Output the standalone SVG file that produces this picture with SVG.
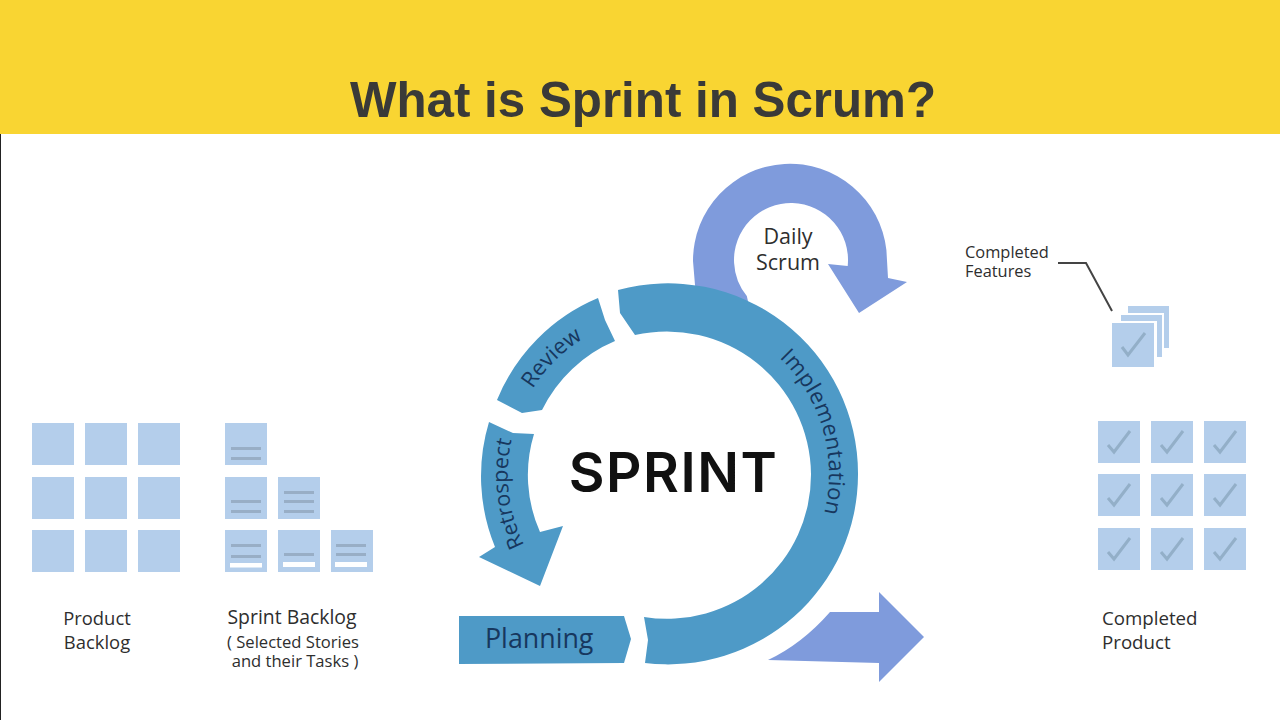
<svg xmlns="http://www.w3.org/2000/svg" width="1280" height="720" viewBox="0 0 1280 720">
<style>
.t{fill:#B4CEEB}
.l{fill:#98AEC6}
.w{fill:#FFFFFF}
.c{fill:none;stroke:#93AFC8;stroke-width:3}
.lab{font-family:"Open Sans","Liberation Sans",sans-serif;fill:#2E2E2E}
.arc{font-family:"Open Sans","Liberation Sans",sans-serif;fill:#17375E}
.blue{fill:#4E9AC7}
.peri{fill:#7F9BDC}
</style>
<defs>
<path id="pImp" d="M748.5 334.6A161 161 0 0 1 810.2 549.6"/>
<path id="pRev" d="M513.5 432.6A160 160 0 0 1 626.6 319.5"/>
<path id="pRet" d="M540.2 570.3A158 158 0 0 1 520.7 411.5"/>
<path id="chk" d="M10 24L16 31L32 10"/>
<rect id="tile" class="t" width="42" height="42"/>
</defs>
<rect width="1280" height="720" fill="#FFFFFF"/>
<rect y="134" width="1" height="586" fill="#222222"/>
<g id="header">
<rect width="1280" height="134" fill="#F9D532"/>
<text x="643" y="117" text-anchor="middle" font-family="'Liberation Sans',Arial,sans-serif" font-weight="700" font-size="49.3" fill="#3A3A38">What is Sprint in Scrum?</text>
</g>
<g id="product-backlog">
<use href="#tile" x="32" y="423"/><use href="#tile" x="85" y="423"/><use href="#tile" x="138" y="423"/>
<use href="#tile" x="32" y="477"/><use href="#tile" x="85" y="477"/><use href="#tile" x="138" y="477"/>
<use href="#tile" x="32" y="530"/><use href="#tile" x="85" y="530"/><use href="#tile" x="138" y="530"/>
<text class="lab" font-size="18.4" text-anchor="middle"><tspan x="97" y="625">Product</tspan><tspan x="97" y="649">Backlog</tspan></text>
</g>
<g id="sprint-backlog">
<use href="#tile" x="225" y="423"/>
<use href="#tile" x="225" y="477"/><use href="#tile" x="278" y="477"/>
<use href="#tile" x="225" y="530"/><use href="#tile" x="278" y="530"/><use href="#tile" x="331" y="530"/>
<rect class="l" x="231" y="447" width="30" height="3"/><rect class="l" x="231" y="457" width="30" height="3"/>
<rect class="l" x="231" y="500" width="30" height="3"/><rect class="l" x="231" y="510" width="30" height="3"/>
<rect class="l" x="284" y="491" width="30" height="3"/><rect class="l" x="284" y="500" width="30" height="3"/><rect class="l" x="284" y="510" width="30" height="3"/>
<rect class="l" x="231" y="544" width="30" height="3"/><rect class="l" x="231" y="555" width="30" height="3"/><rect class="w" x="230" y="563" width="32" height="4.5"/>
<rect class="l" x="284" y="553" width="30" height="3"/><rect class="w" x="283" y="562" width="32" height="5"/>
<rect class="l" x="336" y="544" width="30" height="3"/><rect class="l" x="336" y="553" width="30" height="3"/><rect class="w" x="335" y="562" width="32" height="5"/>
<text class="lab" font-size="19.4" text-anchor="middle" x="292" y="624">Sprint Backlog</text>
<text class="lab" font-size="16.6" text-anchor="middle"><tspan x="293" y="648">( Selected Stories</tspan><tspan x="295" y="667">and their Tasks )</tspan></text>
</g>
<g id="daily-scrum">
<path class="peri" d="M700 310L695 285L693 261A97 97 0 0 1 886.4 250L888 278L907 282L859 313L828 264L847.7 266A57 57 0 1 0 734.1 263A57 57 0 0 0 746.8 296L750 310Z"/>
<text class="lab" font-size="21.5" text-anchor="middle"><tspan x="788" y="244">Daily</tspan><tspan x="788" y="270">Scrum</tspan></text>
</g>
<g id="implementation">
<path class="blue" d="M618 290A190 190 0 0 1 858 474A190 190 0 0 1 645 663L648 640L644 617A144 144 0 0 0 811 474A144 144 0 0 0 635 335L620 313Z"/>
<text class="arc" font-size="22" letter-spacing="0.4"><textPath href="#pImp" startOffset="50%" text-anchor="middle">Implementation</textPath></text>
</g>
<g id="review">
<path class="blue" d="M598 298L605 320L615 341A143 143 0 0 0 542 410L522 413L497 400A187 187 0 0 1 598 298Z"/>
<text class="arc" font-size="22"><textPath href="#pRev" startOffset="50%" text-anchor="middle">Review</textPath></text>
</g>
<g id="retrospect">
<path class="blue" d="M489 422L513 433L534 434A140 140 0 0 0 540 532L563 526L540 586L479 557L495 547A187 187 0 0 1 489 422Z"/>
<text class="arc" font-size="21.5"><textPath href="#pRet" startOffset="50%" text-anchor="middle">Retrospect</textPath></text>
</g>
<g id="planning">
<path class="blue" d="M459 616L624 616L631 639L624 663L459 664Z"/>
<text class="arc" x="485" y="648" font-size="26.8">Planning</text>
</g>
<g id="sprint-label">
<text x="673.5" y="492" text-anchor="middle" font-family="Inter,'Liberation Sans',sans-serif" font-weight="600" font-size="55" letter-spacing="1.5" fill="#111111">SPRINT</text>
</g>
<g id="output-arrow">
<path class="peri" d="M768 660Q802 644 830 612L879 612L879 592L924 637L879 682L879 663Z"/>
</g>
<g id="completed-features">
<text class="lab" font-size="16.4"><tspan x="965" y="258">Completed</tspan><tspan x="965" y="277">Features</tspan></text>
<rect x="1128" y="306" width="41" height="42" fill="#B4CEEB"/>
<rect x="1119" y="313" width="45" height="46" fill="#FFFFFF"/>
<rect x="1121" y="315" width="41" height="42" fill="#B4CEEB"/>
<rect x="1110" y="321" width="47" height="48" fill="#FFFFFF"/>
<rect x="1112" y="323" width="42" height="44" fill="#B4CEEB"/>
<path class="c" d="M1122 347L1128 355L1145 333"/>
</g>
<g id="completed-product">
<use href="#tile" x="1098" y="421"/><use href="#tile" x="1151" y="421"/><use href="#tile" x="1204" y="421"/>
<use href="#tile" x="1098" y="474"/><use href="#tile" x="1151" y="474"/><use href="#tile" x="1204" y="474"/>
<use href="#tile" x="1098" y="528"/><use href="#tile" x="1151" y="528"/><use href="#tile" x="1204" y="528"/>
<use href="#chk" class="c" x="1098" y="421"/><use href="#chk" class="c" x="1151" y="421"/><use href="#chk" class="c" x="1204" y="421"/>
<use href="#chk" class="c" x="1098" y="474"/><use href="#chk" class="c" x="1151" y="474"/><use href="#chk" class="c" x="1204" y="474"/>
<use href="#chk" class="c" x="1098" y="528"/><use href="#chk" class="c" x="1151" y="528"/><use href="#chk" class="c" x="1204" y="528"/>
<text class="lab" font-size="18.7"><tspan x="1102" y="625">Completed</tspan><tspan x="1102" y="649">Product</tspan></text>
</g>
<g id="connectors">
<path d="M1058 263L1086 263L1112 311" fill="none" stroke="#444444" stroke-width="2"/>
</g>
</svg>
